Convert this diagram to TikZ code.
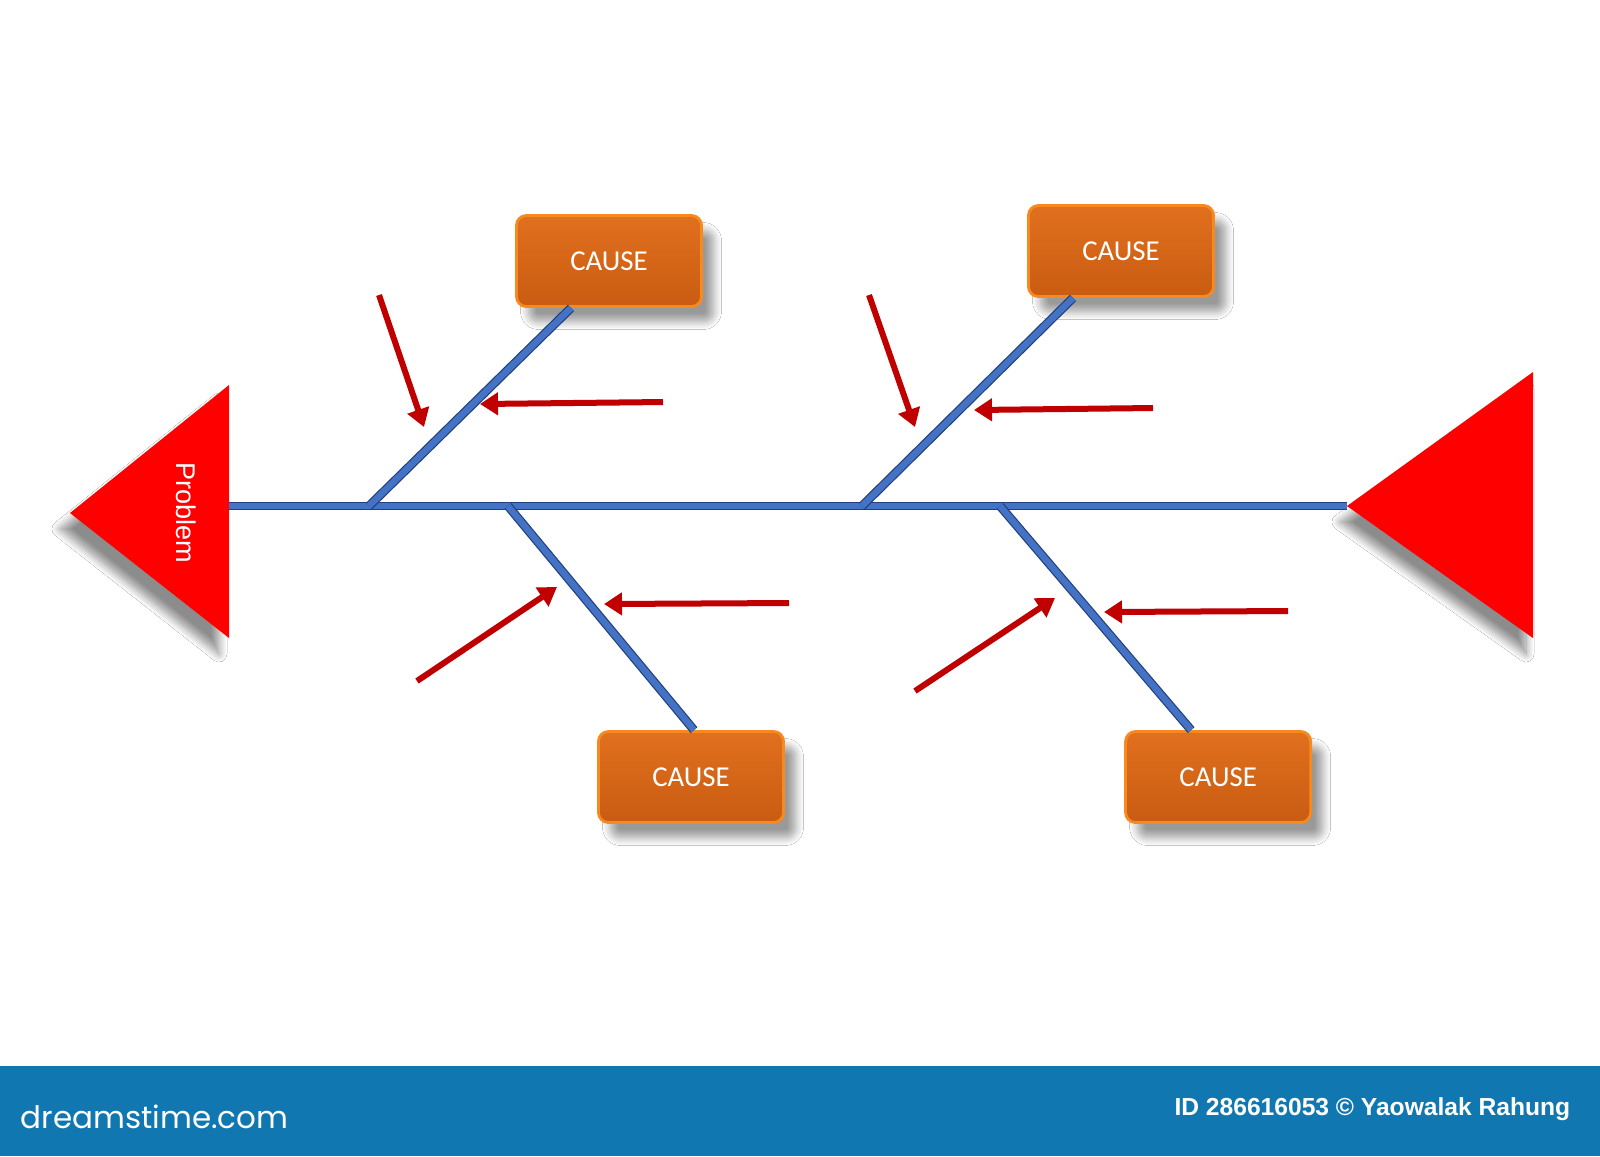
\documentclass[tikz,border=0pt]{standalone}
\usepackage{fontspec}
\setmainfont{Carlito}
\newfontfamily\barfont{Liberation Sans}
\newfontfamily\logofont{Poppins}
\usepackage{tikz}
\usetikzlibrary{positioning,shapes,arrows.meta,shadows.blur}

\definecolor{bone}{HTML}{4472C4}
\definecolor{boneline}{HTML}{22407A}
\definecolor{arrowred}{HTML}{C00000}
\definecolor{causetop}{HTML}{E1701E}
\definecolor{causebot}{HTML}{C95C12}
\definecolor{causeedge}{HTML}{F8891F}
\definecolor{barblue}{HTML}{1177B0}

\tikzset{
  cause/.style={rectangle, rounded corners=0.1cm, minimum width=1.85cm, minimum height=0.91cm,
    top color=causetop, bottom color=causebot, draw=causeedge, line width=0.8pt,
    text=white, font=\fontsize{8.2}{10}\selectfont,
    blur shadow={shadow xshift=0.12cm, shadow yshift=-0.15cm, shadow blur radius=0.08cm,
      shadow blur steps=10, shadow opacity=40}},
  fishbone/.style={draw=boneline, double=bone, double distance=0.065cm, line width=0.012cm},
  hint/.style={draw=arrowred, line width=0.06cm, -{Triangle[length=0.18cm, width=0.22cm]}},
  headshadow/.style={blur shadow={shadow xshift=#1, shadow yshift=-0.16cm, shadow blur radius=0.08cm,
      shadow blur steps=10, shadow opacity=45}},
}

\begin{document}
\begin{tikzpicture}[x=0.01cm, y=-0.01cm]
\useasboundingbox (0,0) rectangle (1600,1156);
\fill[white] (0,0) rectangle (1600,1156);

% head and tail
\fill[red, headshadow=-0.1cm] (70,513) -- (229,385) -- (229,638) -- cycle;
\fill[red, headshadow=-0.07cm] (1347,506) -- (1533,372) -- (1533,638) -- cycle;
\node[rotate=-90, text=white, font=\barfont\fontsize{7.7}{9}\selectfont] (prob) at (186,513) {Problem};

% spine
\coordinate (tail) at (229,506);
\coordinate (head) at (1347,506);
\coordinate (j1) at (369,506);
\coordinate (j2) at (862,506);
\coordinate (j3) at (508,506);
\coordinate (j4) at (1000,506);
\draw[fishbone] (tail) -- (head);

% causes
\node[cause] (C1) at (609,261) {CAUSE};
\node[cause] (C2) at (1121,251) {CAUSE};
\node[cause] (C3) at (691,777) {CAUSE};
\node[cause, right = 3.39cm of C3] (C4) {CAUSE};

\draw[fishbone] (j1) -- ([xshift=-0.38cm]C1.south);
\draw[fishbone] (j2) -- ([xshift=-0.48cm]C2.south);
\draw[fishbone] (j3) -- ([xshift=0.03cm]C3.north);
\draw[fishbone] (j4) -- ([xshift=-0.27cm]C4.north);

% sub-causes
\foreach \n/\sx/\sy/\ex/\ey in {1/379/295/424/427, 2/663/402/480/404,
                                3/869/295/915/427, 4/1153/408/974/410,
                                5/417/681/557/587, 6/789/603/604/604,
                                7/915/691/1055/598, 8/1288/611/1104/612} {
  \coordinate (s\n) at (\sx,\sy);
  \coordinate (e\n) at (\ex,\ey);
  \draw[hint] (s\n) -- (e\n);
}

% footer
\fill[barblue] (0,1066) rectangle (1600,1156);
\node[anchor=west, text=white, font=\logofont\fontsize{8.8}{11}\selectfont, inner sep=0pt] (logo) at (20,1117) {dreamstime.com};
\node[anchor=east, text=white, font=\barfont\bfseries\fontsize{7}{9}\selectfont, inner sep=0pt] (credit) at (1571,1109) {ID 286616053 © Yaowalak Rahung};
\end{tikzpicture}
\end{document}
